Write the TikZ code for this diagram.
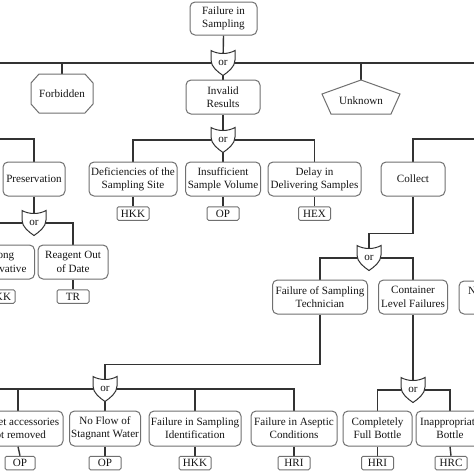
\documentclass[tikz,border=0pt]{standalone}
\usepackage{fontspec}
\setmainfont{Liberation Serif}
\usetikzlibrary{calc}
\definecolor{boxgray}{HTML}{707070}
\definecolor{lnc}{HTML}{333333}
\definecolor{txt}{HTML}{151515}
\pgfdeclarelayer{bg}
\pgfsetlayers{bg,main}
\tikzset{
  box/.style={draw=boxgray, line width=1pt, rounded corners=5pt, fill=white, align=center, inner sep=1pt, text=txt},
  tag/.style={draw=boxgray, line width=1pt, rounded corners=1.5pt, fill=white, inner sep=0pt, minimum width=32pt, minimum height=13.5pt, text=txt},
  conn/.style={draw=lnc, line width=1.4pt},
  gateline/.style={draw=lnc, line width=1pt, fill=white},
  gatetext/.style={inner sep=0pt, minimum width=24pt, minimum height=25pt, text=txt},
  shapeline/.style={draw=boxgray, line width=1pt, fill=white},
}
\newcommand\orgate[3]{%
  \begin{scope}[shift={(#2,#3)}]
    \draw[gateline] (-12,-12.5) .. controls (-5,-8.5) and (5,-8.5) .. (12,-12.5) -- (12,-3) .. controls (12,4) and (5,9) .. (0,12.5) .. controls (-5,9) and (-12,4) .. (-12,-3) -- cycle;
  \end{scope}
  \node[gatetext] (#1) at (#2,#3) {or};}
\begin{document}
\begin{tikzpicture}[x=1pt,y=-1pt, font=\fontsize{11.1pt}{13.3pt}\selectfont]
\useasboundingbox (0,0) rectangle (474,474);
% level 0
\node[box, minimum width=67pt, minimum height=33pt] (top) at (223.5,18.5) {Failure in\\Sampling};
% level 1
\draw[shapeline] (39,74) -- (85,74) -- (93,83) -- (93,104) -- (85,113) -- (39,113) -- (31,104) -- (31,83) -- cycle;
\node[text=txt] (forb) at (62,93.5) {Forbidden};
\node[box, minimum width=74pt, minimum height=34pt] (inv) at (223,97) {Invalid\\Results};
\draw[shapeline] (361,80) -- (400,94) -- (391,114) -- (331,114) -- (322,94) -- cycle;
\node[text=txt] (unk) at (361,101) {Unknown};
% level 2
\node[box, minimum width=62pt, minimum height=34pt] (pres) at (34,179) {Preservation};
\node[box, minimum width=88pt, minimum height=34pt] (def) at (133,179) {Deficiencies of the\\Sampling Site};
\node[box, minimum width=75pt, minimum height=34pt] (ins) at (223,179) {Insufficient\\Sample Volume};
\node[box, minimum width=93pt, minimum height=34pt] (del) at (314.5,179) {Delay in\\Delivering Samples};
\node[box, minimum width=64pt, minimum height=34pt] (col) at (413,179) {Collect};
\node[tag] (t-def) at (133,213.5) {HKK};
\node[tag] (t-ins) at (223,213.5) {OP};
\node[tag] (t-del) at (314.5,213.5) {HEX};
% level 3
\node[box, minimum width=71pt, minimum height=34pt] (wrong) at (-1,262) {Wrong\\Preservative};
\node[box, minimum width=70pt, minimum height=34pt] (reag) at (73,262) {Reagent Out\\of Date};
\node[tag] (t-wrong) at (-1,296.5) {HKK};
\node[tag] (t-reag) at (73,296.5) {TR};
\node[box, minimum width=95pt, minimum height=34pt] (tech) at (320,297) {Failure of Sampling\\Technician};
\node[box, minimum width=69pt, minimum height=34pt] (cont) at (413,297) {Container\\Level Failures};
\node[box, minimum width=70pt, minimum height=33pt] (nbox) at (494,297.5) {Non-Sterile\\Bottle};
% level 4
\node[box, minimum width=90pt, minimum height=35pt] (fauc) at (18,428.5) {Faucet accessories\\not removed};
\node[box, minimum width=71pt, minimum height=35pt] (noflow) at (105,428.5) {No Flow of\\Stagnant Water};
\node[box, minimum width=92pt, minimum height=35pt] (ident) at (195,428.5) {Failure in Sampling\\Identification};
\node[box, minimum width=86pt, minimum height=35pt] (asep) at (294,428.5) {Failure in Aseptic\\Conditions};
\node[box, minimum width=69pt, minimum height=35pt] (full) at (377.5,428.5) {Completely\\Full Bottle};
\node[box, minimum width=68pt, minimum height=35pt] (inap) at (450,428.5) {Inappropriate\\Bottle};
\node[tag, minimum width=30pt] (t-fauc) at (20,463) {OP};
\node[tag] (t-noflow) at (105,463) {OP};
\node[tag] (t-ident) at (195,463) {HKK};
\node[tag] (t-asep) at (294,463) {HRI};
\node[tag] (t-full) at (377.5,463) {HRI};
\node[tag] (t-inap) at (451,463) {HRC};
% gates
\orgate{g1}{223}{63}
\orgate{g2}{223}{140}
\orgate{g3}{34}{223}
\orgate{g4}{369}{258}
\orgate{g5}{105}{389}
\orgate{g6}{413}{390}
% free ends
\coordinate (eL1) at (-10,63);
\coordinate (eR1) at (484,63);
\coordinate (eL2) at (-10,139);
\coordinate (eR2) at (484,139);
\coordinate (eL5) at (-10,389);
\begin{pgfonlayer}{bg}
  \fill[white] (0,0) rectangle (474,474);
  \draw[conn] (top.south) -- (g1.center);
  \draw[conn] (eL1) -- (eR1);
  \draw[conn] (g1.center) -| (forb.north);
  \draw[conn] (g1.center) -- (inv.north);
  \draw[conn] (g1.center) -| (unk.north);
  \draw[conn] (inv.south) -- (g2.center);
  \draw[conn] (g2.center) -| (def.north);
  \draw[conn] (g2.center) -- (ins.north);
  \draw[conn] (g2.center) -| (del.north);
  \draw[conn] (def.south) -- (t-def.north);
  \draw[conn] (ins.south) -- (t-ins.north);
  \draw[conn] (del.south) -- (t-del.north);
  \draw[conn] (eL2) -| (pres.north);
  \draw[conn] (eR2) -| (col.north);
  \draw[conn] (pres.south) -- (g3.center);
  \draw[conn] (g3.center) -| (wrong.north);
  \draw[conn] (g3.center) -| (reag.north);
  \draw[conn] (wrong.south) -- (t-wrong.north);
  \draw[conn] (reag.south) -- (t-reag.north);
  \draw[conn] (col.south) -- ++(0,37) -| (g4.center);
  \draw[conn] (g4.center) -| (tech.north);
  \draw[conn] (g4.center) -| (cont.north);
  \draw[conn] (tech.south) -- ++(0,50) -| (g5.center);
  \draw[conn] (eL5) -- (g5.center);
  \draw[conn] (g5.center) -| (fauc.north);
  \draw[conn] (g5.center) -- (noflow.north);
  \draw[conn] (g5.center) -| (ident.north);
  \draw[conn] (g5.center) -| (asep.north);
  \draw[conn] (cont.south) -- (g6.center);
  \draw[conn] (g6.center) -| (full.north);
  \draw[conn] (g6.center) -| (inap.north);
  \draw[conn] (fauc.south) -- (t-fauc.north);
  \draw[conn] (noflow.south) -- (t-noflow.north);
  \draw[conn] (ident.south) -- (t-ident.north);
  \draw[conn] (asep.south) -- (t-asep.north);
  \draw[conn] (full.south) -- (t-full.north);
  \draw[conn] (inap.south) -- (t-inap.north);
\end{pgfonlayer}
\end{tikzpicture}
\end{document}
